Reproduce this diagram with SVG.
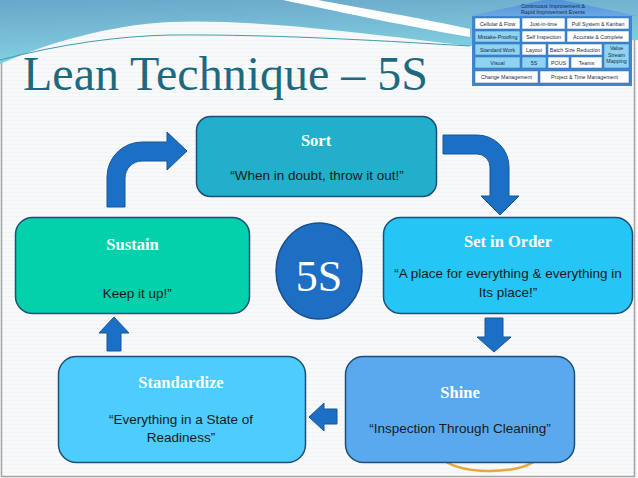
<svg xmlns="http://www.w3.org/2000/svg" width="638" height="478" viewBox="0 0 638 478">
<defs>
<linearGradient id="hdr" x1="0" y1="0" x2="0.3" y2="1">
<stop offset="0" stop-color="#6aa6c9"/>
<stop offset="1" stop-color="#84d3e2"/>
</linearGradient>
<linearGradient id="roofg" x1="0" y1="0" x2="0" y2="1">
<stop offset="0" stop-color="#4f8fd6"/>
<stop offset="1" stop-color="#6aa8e4"/>
</linearGradient>
<pattern id="stripes" width="4" height="4" patternUnits="userSpaceOnUse">
<rect width="4" height="4" fill="#f8f9fa"/>
<rect y="0" width="4" height="1" fill="#f1f3f4"/>
</pattern>
</defs>
<style>
.box{stroke:#1f4e79;stroke-width:1.5}
.ttl{font-family:"Liberation Serif",serif;font-weight:bold;font-size:16.5px;fill:#ffffff;text-anchor:middle}
.txt{font-family:"Liberation Sans",Arial,sans-serif;font-size:13.5px;fill:#1a1a1a;text-anchor:middle}
.arr{fill:#1b6fc5;stroke:#175698;stroke-width:1}
.cell{stroke:#2f6fb8;stroke-width:0.5}
.ct{font-family:"Liberation Sans",Arial,sans-serif;font-size:5.3px;fill:#1a2a48;text-anchor:middle}
.w{fill:#ffffff}
.lb{fill:#8fd3f2}
</style>
<rect width="638" height="478" fill="url(#stripes)"/>
<rect x="1.5" y="-5" width="633" height="481.5" fill="none" stroke="#a3a3a3" stroke-width="1.5"/>
<g id="header">
<path d="M0,0 H638 V40 L470,46 C400,38 260,18 170,22 C110,25 50,42 0,64 Z" fill="url(#hdr)"/>
<path d="M283,0 C330,10 400,25 470,37 L470,29 C420,18 350,6 318,0 Z" fill="#ffffff"/>
<path d="M0,60 C60,44 120,36 170,35 C280,34 400,42 470,46" fill="none" stroke="#3d9db2" stroke-width="1"/>
</g>
<text x="23" y="90" font-family="'Liberation Serif',serif" font-size="48" fill="#1d6a80">Lean Technique – 5S</text>
<g id="house">
<polygon points="469,16 553,-2 638,16" fill="url(#roofg)"/>
<text class="ct" x="553" y="7.5" font-size="5.8">Continuous Improvement &amp;</text>
<text class="ct" x="553" y="14" font-size="5.8">Rapid Improvement Events</text>
<rect x="472" y="16" width="160" height="70" fill="#3e86cf"/>
<rect class="cell w" x="475" y="18" width="45" height="11"/>
<rect class="cell w" x="522" y="18" width="43" height="11"/>
<rect class="cell w" x="567" y="18" width="62" height="11"/>
<rect class="cell lb" x="475" y="31" width="45" height="11"/>
<rect class="cell w" x="522" y="31" width="43" height="11"/>
<rect class="cell w" x="567" y="31" width="62" height="11"/>
<rect class="cell lb" x="475" y="44" width="45" height="11"/>
<rect class="cell w" x="522" y="44" width="24" height="11"/>
<rect class="cell w" x="548" y="44" width="54" height="11"/>
<rect class="cell lb" x="604" y="44" width="25" height="24"/>
<rect class="cell lb" x="475" y="57" width="45" height="11"/>
<rect class="cell lb" x="522" y="57" width="24" height="11"/>
<rect class="cell w" x="548" y="57" width="21" height="11"/>
<rect class="cell w" x="571" y="57" width="31" height="11"/>
<rect class="cell w" x="475" y="71" width="63" height="12"/>
<rect class="cell w" x="540" y="71" width="89" height="12"/>
<text class="ct" x="497.5" y="25.5">Cellular &amp; Flow</text>
<text class="ct" x="543.5" y="25.5">Just-in-time</text>
<text class="ct" x="598" y="25.5">Pull System &amp; Kanban</text>
<text class="ct" x="497.5" y="38.5">Mistake-Proofing</text>
<text class="ct" x="543.5" y="38.5">Self Inspection</text>
<text class="ct" x="598" y="38.5">Accurate &amp; Complete</text>
<text class="ct" x="497.5" y="51.5">Standard Work</text>
<text class="ct" x="534" y="51.5">Layout</text>
<text class="ct" x="575" y="51.5" font-size="4.8">Batch Size Reduction</text>
<text class="ct" x="616.5" y="50">Value</text>
<text class="ct" x="616.5" y="56.5">Stream</text>
<text class="ct" x="616.5" y="63">Mapping</text>
<text class="ct" x="497.5" y="64.5">Visual</text>
<text class="ct" x="534" y="64.5">5S</text>
<text class="ct" x="558.5" y="64.5">POUS</text>
<text class="ct" x="586.5" y="64.5">Teams</text>
<text class="ct" x="506.5" y="79">Change Management</text>
<text class="ct" x="584.5" y="79">Project &amp; Time Management</text>
</g>
<ellipse cx="490" cy="455" rx="48" ry="16" fill="none" stroke="#e6a83c" stroke-width="2.5"/>
<g id="connectors">
<path class="arr" d="M107,207 L107,177 A35,35 0 0 1 142,142 L167,142 L167,132 L187,151 L167,170 L167,161 L142,161 A17,17 0 0 0 125,178 L125,207 Z"/>
<path class="arr" d="M443,135 L477,135 A32,32 0 0 1 509,167 L509,196 L519,196 L500,215 L481,196 L490,196 L490,167 A13,13 0 0 0 477,154 L443,154 Z"/>
<path class="arr" d="M485,318 H503 V337 H511 L494,352 L477,337 H485 Z"/>
<path class="arr" d="M337,409 V424 H324 V431 L309,417 L324,403 V409 Z"/>
<path class="arr" d="M107,351 V333 H99 L114,317 L129,333 H121 V351 Z"/>
</g>
<g id="sort">
<rect class="box" x="196.5" y="116.5" width="240" height="80" rx="14" fill="#21afcb"/>
<text class="ttl" x="316" y="146">Sort</text>
<text class="txt" x="317" y="180">“When in doubt, throw it out!”</text>
</g>
<g id="sustain">
<rect class="box" x="15.5" y="217.5" width="234" height="96" rx="17" fill="#02d1ab"/>
<text class="ttl" x="132.5" y="250">Sustain</text>
<text class="txt" x="135" y="298"><tspan fill="#3aa0e0">“</tspan>Keep it up!”</text>
</g>
<g id="center">
<ellipse cx="319" cy="271" rx="43" ry="48" fill="#1e6fc4" stroke="#174f8f" stroke-width="1.5"/>
<text x="319" y="291" font-family="'Liberation Serif',serif" font-size="44" fill="#ffffff" text-anchor="middle">5S</text>
</g>
<g id="setinorder">
<rect class="box" x="383.5" y="217.5" width="249" height="96" rx="17" fill="#25c6f5"/>
<text class="ttl" x="508" y="247">Set in Order</text>
<text class="txt" x="508" y="278">“A place for everything &amp; everything in</text>
<text class="txt" x="508" y="297">Its place!”</text>
</g>
<g id="standardize">
<rect class="box" x="58.5" y="356.5" width="247" height="106" rx="18" fill="#4ccdfd"/>
<text class="ttl" x="181" y="388">Standardize</text>
<text class="txt" x="181" y="424">“Everything in a State of</text>
<text class="txt" x="181" y="442">Readiness”</text>
</g>
<g id="shine">
<rect class="box" x="345.5" y="356.5" width="229" height="106" rx="18" fill="#5aa9ee"/>
<text class="ttl" x="460" y="398">Shine</text>
<text class="txt" x="460" y="433">“Inspection Through Cleaning”</text>
</g>
</svg>
